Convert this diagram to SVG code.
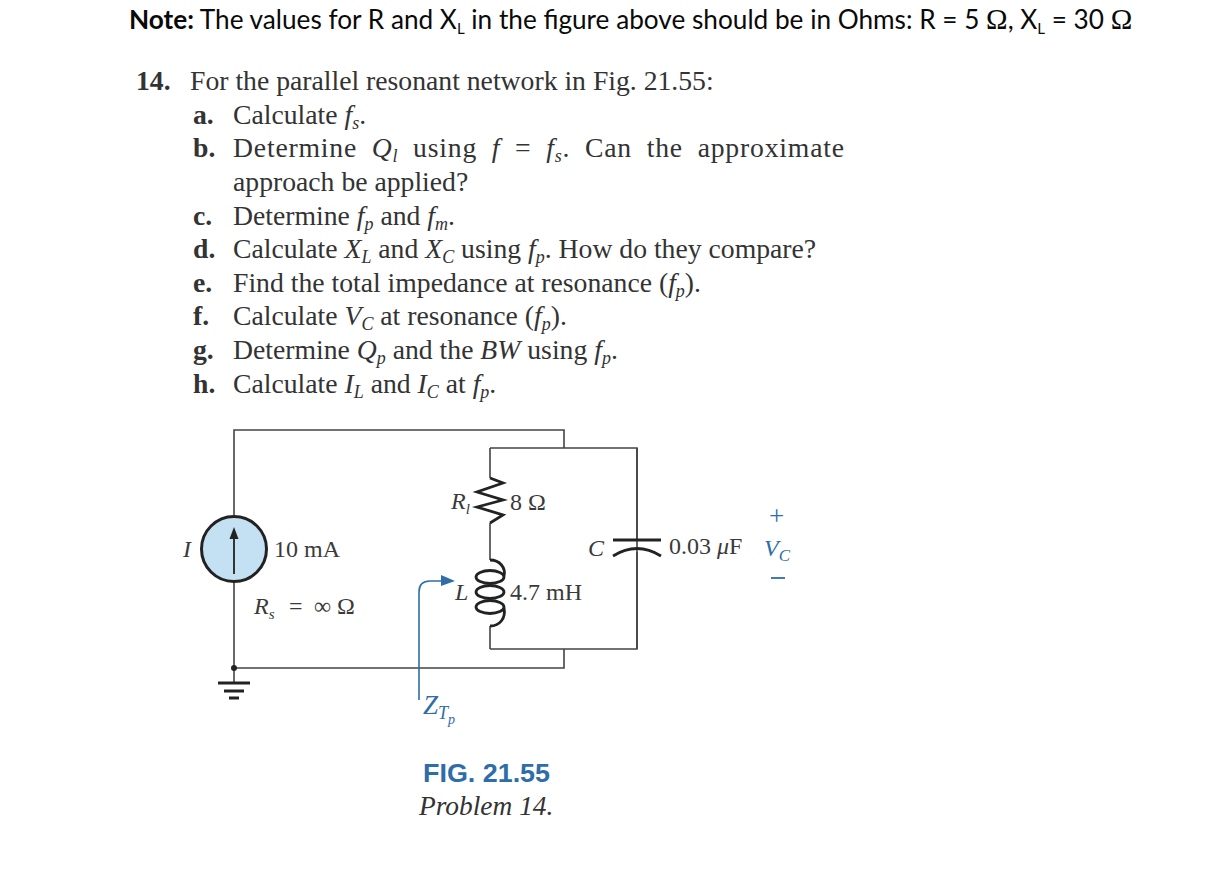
<svg xmlns="http://www.w3.org/2000/svg" width="1208" height="878" viewBox="0 0 1208 878">
<style>
.n{font-family:"Lato","Liberation Sans",sans-serif;font-size:26.2px;fill:#0a0a0a}
.t{font-family:"Liberation Serif",serif;font-size:27.7px;fill:#333}
.b{font-weight:bold}
.i{font-style:italic}
.c{font-family:"Liberation Serif",serif;font-size:24px;fill:#3a3a3a}
.bl{fill:#2f6da8}
.w{fill:none;stroke:#444;stroke-width:1.6}
.s{fill:none;stroke:#222;stroke-width:2.8}
</style>
<rect width="1208" height="878" fill="#fff"/>
<g id="note">
<text class="n" x="129" y="29"><tspan class="b">Note:</tspan> The values for R and X<tspan font-size="15" dy="5">L</tspan><tspan dy="-5"> in the figure above should be in Ohms: R = 5 </tspan><tspan font-family="Liberation Serif" font-size="29">Ω</tspan>, X<tspan font-size="15" dy="5">L</tspan><tspan dy="-5"> = 30 </tspan><tspan font-family="Liberation Serif" font-size="29">Ω</tspan></text>
</g>
<g id="problem">
<text class="t b" x="136" y="90">14.</text>
<text class="t" x="190" y="90">For the parallel resonant network in Fig. 21.55:</text>
<text class="t b" x="193" y="124">a.</text>
<text class="t" x="233" y="124">Calculate <tspan class="i">f<tspan font-size="18" dy="5">s</tspan></tspan><tspan dy="-5">.</tspan></text>
<text class="t b" x="193" y="157">b.</text>
<text class="t" x="233" y="157" word-spacing="7" letter-spacing="0.8">Determine <tspan class="i">Q<tspan font-size="18" dy="5">l</tspan></tspan><tspan dy="-5"> using </tspan><tspan class="i">f</tspan> = <tspan class="i">f<tspan font-size="18" dy="5">s</tspan></tspan><tspan dy="-5">. Can the approximate</tspan></text>
<text class="t" x="233" y="191">approach be applied?</text>
<text class="t b" x="193" y="225">c.</text>
<text class="t" x="233" y="225">Determine <tspan class="i">f<tspan font-size="18" dy="5">p</tspan></tspan><tspan dy="-5"> and </tspan><tspan class="i">f<tspan font-size="18" dy="5">m</tspan></tspan><tspan dy="-5">.</tspan></text>
<text class="t b" x="193" y="258">d.</text>
<text class="t" x="233" y="258">Calculate <tspan class="i">X<tspan font-size="18" dy="5">L</tspan></tspan><tspan dy="-5"> and </tspan><tspan class="i">X<tspan font-size="18" dy="5">C</tspan></tspan><tspan dy="-5"> using </tspan><tspan class="i">f<tspan font-size="18" dy="5">p</tspan></tspan><tspan dy="-5">. How do they compare?</tspan></text>
<text class="t b" x="193" y="292">e.</text>
<text class="t" x="233" y="292">Find the total impedance at resonance (<tspan class="i">f<tspan font-size="18" dy="5">p</tspan></tspan><tspan dy="-5">).</tspan></text>
<text class="t b" x="193" y="325">f.</text>
<text class="t" x="233" y="325">Calculate <tspan class="i">V<tspan font-size="18" dy="5">C</tspan></tspan><tspan dy="-5"> at resonance (</tspan><tspan class="i">f<tspan font-size="18" dy="5">p</tspan></tspan><tspan dy="-5">).</tspan></text>
<text class="t b" x="193" y="359">g.</text>
<text class="t" x="233" y="359">Determine <tspan class="i">Q<tspan font-size="18" dy="5">p</tspan></tspan><tspan dy="-5"> and the </tspan><tspan class="i">BW</tspan> using <tspan class="i">f<tspan font-size="18" dy="5">p</tspan></tspan><tspan dy="-5">.</tspan></text>
<text class="t b" x="193" y="393">h.</text>
<text class="t" x="233" y="393">Calculate <tspan class="i">I<tspan font-size="18" dy="5">L</tspan></tspan><tspan dy="-5"> and </tspan><tspan class="i">I<tspan font-size="18" dy="5">C</tspan></tspan><tspan dy="-5"> at </tspan><tspan class="i">f<tspan font-size="18" dy="5">p</tspan></tspan><tspan dy="-5">.</tspan></text>
</g>
<g id="connectors">
<path class="w" d="M234 515V430H564V448M490 448H637V649H490M564 649V668H234V582"/>
<path class="w" d="M490 448V478M490 523V560M490 626V649"/>
<path class="w" d="M234 668V683"/>
<path d="M419 700V592Q419 581 430 581H442" fill="none" stroke="#2f6da8" stroke-width="1.6"/>
<path d="M441 575L455 581L441 586Z" fill="#2f6da8"/>
</g>
<g id="source">
<circle cx="234" cy="549" r="32.5" fill="#c4e1f4" stroke="#222" stroke-width="3"/>
<path d="M234 574V538" stroke="#222" stroke-width="1.800"/>
<path d="M234 527L238.500 539H229.500Z" fill="#222"/>
<circle cx="234" cy="668" r="3" fill="#222"/>
<text class="c i" x="183" y="557">I</text>
<text class="c" x="274" y="557">10 mA</text>
<text class="c" x="254" y="614"><tspan class="i">R<tspan font-size="15" dy="5">s</tspan></tspan><tspan dy="-5" x="289">=</tspan><tspan x="314">∞ Ω</tspan></text>
</g>
<g id="ground">
<path d="M218 683H250M224 691H244M229 698H239" stroke="#222" stroke-width="3.200"/>
</g>
<g id="resistor">
<path class="s" d="M490 478L503 483L477 492L503 500L477 507L503 515L490 523"/>
<text class="c i" x="451" y="509">R<tspan font-size="15" dy="5">l</tspan></text>
<text class="c" x="510" y="510">8 Ω</text>
</g>
<g id="inductor">
<path class="s" d="M490 560C500 560 506 568 504 576M504 608C506 618 500 626 490 626"/>
<ellipse class="s" cx="490" cy="577" rx="14" ry="6.500"/>
<ellipse class="s" cx="490" cy="592" rx="14" ry="6.500"/>
<ellipse class="s" cx="490" cy="607" rx="14" ry="6.500"/>
<text class="c i" x="455" y="600">L</text>
<text class="c" x="510" y="600">4.7 mH</text>
</g>
<g id="capacitor">
<path d="M637 448V540M637 552V649" class="w"/>
<path d="M613 540H661" stroke="#222" stroke-width="2.800"/>
<path d="M613 556Q637 541 661 556" fill="none" stroke="#222" stroke-width="2.800"/>
<text class="c i" x="588" y="556">C</text>
<text class="c" x="669" y="554">0.03 <tspan class="i">μ</tspan>F</text>
</g>
<g id="vc">
<text class="bl" font-family="Liberation Serif,serif" font-size="27" x="769" y="525">+</text>
<text class="c bl i" x="764" y="556">V<tspan font-size="17" dy="5">C</tspan></text>
<path d="M771 578H785" stroke="#2f6da8" stroke-width="1.800"/>
</g>
<g id="ztp">
<text class="bl i" font-family="Liberation Serif,serif" font-size="27" x="423" y="714">Z<tspan font-size="18" dy="5">T</tspan><tspan font-size="14" dy="5">p</tspan></text>
</g>
<g id="caption">
<text x="423" y="782" font-family="Liberation Sans,sans-serif" font-weight="bold" font-size="26" fill="#2f6da8" textLength="127" lengthAdjust="spacingAndGlyphs">FIG. 21.55</text>
<text x="419" y="815" font-family="Liberation Serif,serif" font-style="italic" font-size="27.400" fill="#333">Problem 14.</text>
</g>
</svg>
